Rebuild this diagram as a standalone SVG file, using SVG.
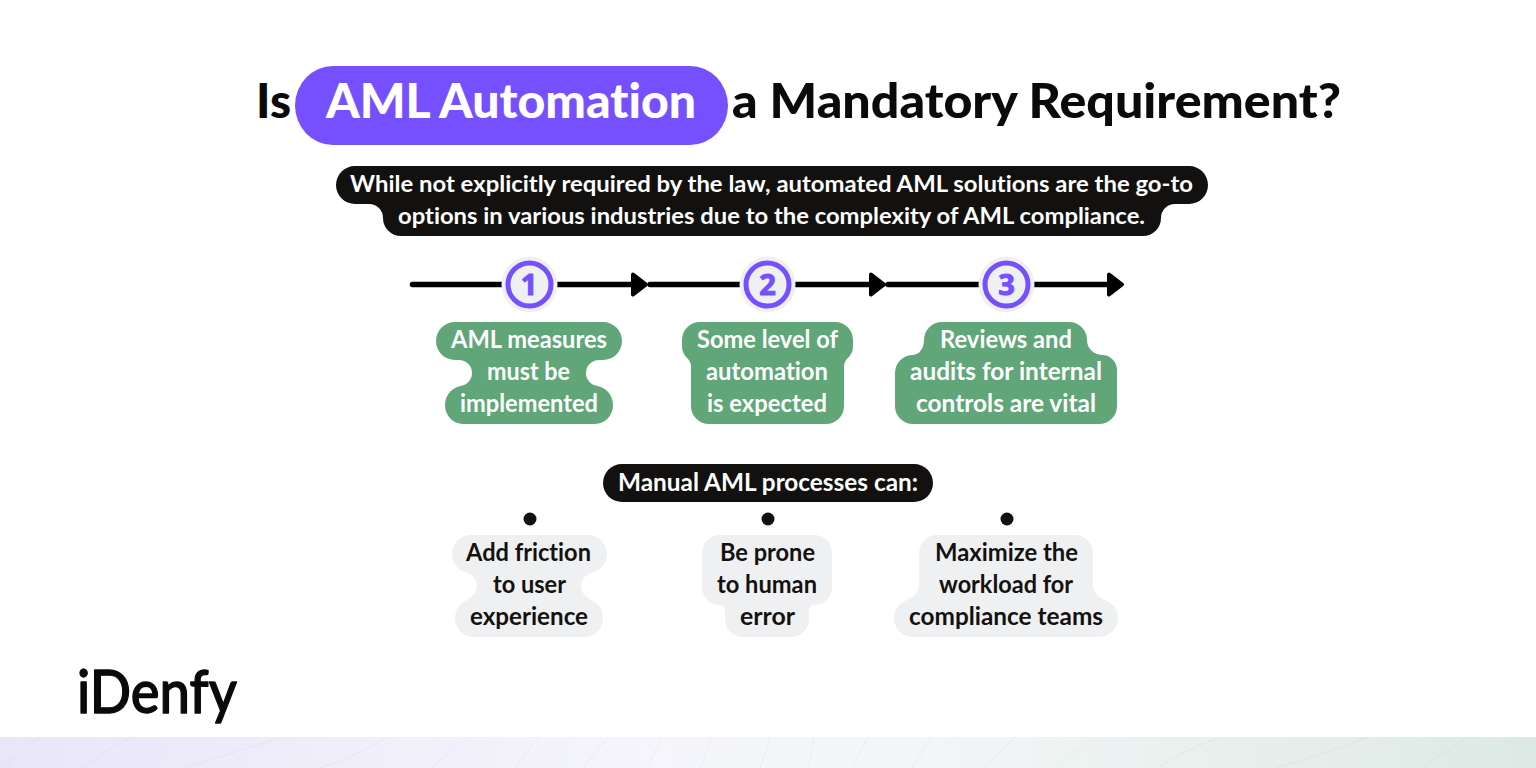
<svg xmlns="http://www.w3.org/2000/svg" width="1536" height="768" viewBox="0 0 1536 768">
<style>
text{font-family:"Lato","Noto Sans",sans-serif;font-weight:700;font-variant-ligatures:none}
.t{font-size:47px;font-weight:900;fill:#0a0a0a}
.s{font-size:23px;fill:#fff}
.g{font-size:24px;fill:#fff}
.k{font-size:24px;fill:#131210}
.d{font-family:"Open Sans","Lato",sans-serif;font-size:29px;font-weight:700;fill:#7650fe;stroke:#7650fe;stroke-width:1;stroke-linejoin:round}
.black{fill:#12110f}.green{fill:#60a678}.gray{fill:#eff0f1}
.halo{fill:#eff0f1}.ring{fill:#eff0f1;stroke:#7650fe;stroke-width:5}
.line{fill:none;stroke:#000;stroke-width:5.500;stroke-linecap:round}
.arrow{marker-end:url(#head)}
.curve{fill:none;stroke:#7878a0;stroke-opacity:.07;stroke-width:1}
</style>
<defs>
<marker id="head" markerUnits="userSpaceOnUse" viewBox="0 0 19 26" refX="3" refY="13" markerWidth="19" markerHeight="26" orient="auto"><path d="M3 3 16 13 3 23Z" fill="#000" stroke="#000" stroke-width="4" stroke-linejoin="round"/></marker>
<linearGradient id="band" x1="0" x2="1" y1="0" y2="0"><stop offset="0" stop-color="#e9e6f9"/><stop offset=".42" stop-color="#f5f5fb"/><stop offset=".6" stop-color="#f3f6f7"/><stop offset="1" stop-color="#dde9e4"/></linearGradient>
</defs>
<rect width="1536" height="768" fill="#fff"/>
<g id="band-footer">
<rect y="737" width="1536" height="31" fill="url(#band)"/>
<path class="curve" d="M39 737Q20 750 5 768M132 737Q105 750 83 768M284 737Q240 750 186 768M387 737Q360 755 319 768M471 737Q450 752 431 768M539 737Q525 752 515 768M608 737Q595 752 583 768M662 737Q655 752 647 768M711 737Q706 752 701 768M770 737Q766 752 760 768M814 737Q810 752 809 768M868 737Q860 752 853 768M931 737Q922 752 912 768M1015 737Q1000 752 985 768M1093 737Q1075 752 1059 768M1221 737Q1180 752 1157 768M1368 737Q1330 752 1275 768M1467 737Q1445 752 1422 768"/>
</g>
<g id="title">
<path d="M333 66H690A38 39.500 0 0 1 690 145H333A38 39.500 0 0 1 333 66Z" fill="#7650fe"/>
<text class="t" x="256" y="118" textLength="35" lengthAdjust="spacingAndGlyphs">Is</text>
<text class="t" x="326" y="118" textLength="370" lengthAdjust="spacingAndGlyphs" style="fill:#fff">AML Automation</text>
<text class="t" x="732" y="118" textLength="609" lengthAdjust="spacingAndGlyphs">a Mandatory Requirement?</text>
</g>
<g id="intro">
<path class="black" d="M355 166H1189A19 19 0 0 1 1189 204H1175A14 14 0 0 0 1161 218A18 18 0 0 1 1143 236H401A18 18 0 0 1 383 218A14 14 0 0 0 369 204H355A19 19 0 0 1 355 166Z"/>
<text class="s" x="350" y="192" textLength="843" lengthAdjust="spacingAndGlyphs">While not explicitly required by the law, automated AML solutions are the go-to</text>
<text class="s" x="398" y="224" textLength="747" lengthAdjust="spacingAndGlyphs">options in various industries due to the complexity of AML compliance.</text>
</g>
<g id="connectors">
<path class="line" d="M412.500 284.500H502"/>
<path class="line arrow" d="M558 284.500H633"/>
<path class="line" d="M650 284.500H741"/>
<path class="line arrow" d="M796 284.500H871"/>
<path class="line" d="M888 284.500H979"/>
<path class="line arrow" d="M1035 284.500H1109"/>
</g>
<g id="step-1">
<circle class="halo" cx="529.500" cy="284.500" r="28"/><circle class="ring" cx="529.500" cy="284.500" r="21.500"/>
<text class="d" x="529" y="295" text-anchor="middle">1</text>
</g>
<g id="step-2">
<circle class="halo" cx="767.500" cy="284.500" r="28"/><circle class="ring" cx="767.500" cy="284.500" r="21.500"/>
<text class="d" x="767.500" y="295" text-anchor="middle">2</text>
</g>
<g id="step-3">
<circle class="halo" cx="1006.500" cy="284.500" r="28"/><circle class="ring" cx="1006.500" cy="284.500" r="21.500"/>
<text class="d" x="1006.500" y="295" text-anchor="middle">3</text>
</g>
<g id="req-1">
<path class="green" d="M455 322H603A19 19 0 0 1 603 360H599A13 13 0 0 0 599 386H595A18 19 0 0 1 595 424H463A18 19 0 0 1 463 386H459A13 13 0 0 0 459 360H455A19 19 0 0 1 455 322Z"/>
<text class="g" x="451" y="348" textLength="156" lengthAdjust="spacingAndGlyphs">AML measures</text>
<text class="g" x="487" y="380" textLength="83" lengthAdjust="spacingAndGlyphs">must be</text>
<text class="g" x="460" y="412" textLength="138" lengthAdjust="spacingAndGlyphs">implemented</text>
</g>
<g id="req-2">
<path class="green" d="M700 322H835A18 18 0 0 1 853 340V346Q853 354 847 359Q844 362 844 367V406A18 18 0 0 1 826 424H709A18 18 0 0 1 691 406V367Q691 362 688 359Q682 354 682 346V340A18 18 0 0 1 700 322Z"/>
<text class="g" x="697" y="348" textLength="141" lengthAdjust="spacingAndGlyphs">Some level of</text>
<text class="g" x="706" y="380" textLength="122" lengthAdjust="spacingAndGlyphs">automation</text>
<text class="g" x="707" y="412" textLength="120" lengthAdjust="spacingAndGlyphs">is expected</text>
</g>
<g id="req-3">
<path class="green" d="M942 322H1069A18 18 0 0 1 1087 340A15 15 0 0 0 1102 355A15 15 0 0 1 1117 370V406A18 18 0 0 1 1099 424H913A18 18 0 0 1 895 406V373A18 18 0 0 1 913 355A11 15 0 0 0 924 340A18 18 0 0 1 942 322Z"/>
<text class="g" x="940" y="348" textLength="132" lengthAdjust="spacingAndGlyphs">Reviews and</text>
<text class="g" x="910" y="380" textLength="192" lengthAdjust="spacingAndGlyphs">audits for internal</text>
<text class="g" x="916" y="412" textLength="180" lengthAdjust="spacingAndGlyphs">controls are vital</text>
</g>
<g id="manual-heading">
<path class="black" d="M622 464H914A19 19 0 0 1 914 502H622A19 19 0 0 1 622 464Z"/>
<text class="s" x="618" y="491" textLength="300" lengthAdjust="spacingAndGlyphs" style="font-size:24px">Manual AML processes can:</text>
</g>
<g id="risk-1">
<circle cx="530" cy="519" r="6.500" fill="#111"/>
<path class="gray" d="M471 535H588A19 19 0 0 1 588 573H594A13 13 0 0 0 594 599H585A18 19 0 0 1 585 637H473A18 19 0 0 1 473 599H464A13 13 0 0 0 464 573H471A19 19 0 0 1 471 535Z"/>
<text class="k" x="466" y="561" textLength="125" lengthAdjust="spacingAndGlyphs">Add friction</text>
<text class="k" x="493" y="593" textLength="73" lengthAdjust="spacingAndGlyphs">to user</text>
<text class="k" x="470" y="625" textLength="118" lengthAdjust="spacingAndGlyphs">experience</text>
</g>
<g id="risk-2">
<circle cx="768" cy="519" r="6.500" fill="#111"/>
<path class="gray" d="M720 535H814A18 18 0 0 1 832 553V587A18 18 0 0 1 814 605A5 5 0 0 0 809 610V619A18 18 0 0 1 791 637H743A18 18 0 0 1 725 619V610A5 5 0 0 0 720 605A18 18 0 0 1 702 587V553A18 18 0 0 1 720 535Z"/>
<text class="k" x="720" y="561" textLength="95" lengthAdjust="spacingAndGlyphs">Be prone</text>
<text class="k" x="717" y="593" textLength="100" lengthAdjust="spacingAndGlyphs">to human</text>
<text class="k" x="740" y="625" textLength="55" lengthAdjust="spacingAndGlyphs">error</text>
</g>
<g id="risk-3">
<circle cx="1007" cy="519" r="6.500" fill="#111"/>
<path class="gray" d="M937 535H1075A18 18 0 0 1 1093 553V585A14 14 0 0 0 1107 599H1099A19 19 0 0 1 1099 637H913A19 19 0 0 1 913 599H905A14 14 0 0 0 919 585V553A18 18 0 0 1 937 535Z"/>
<text class="k" x="935" y="561" textLength="143" lengthAdjust="spacingAndGlyphs">Maximize the</text>
<text class="k" x="939" y="593" textLength="134" lengthAdjust="spacingAndGlyphs">workload for</text>
<text class="k" x="909" y="625" textLength="194" lengthAdjust="spacingAndGlyphs">compliance teams</text>
</g>
<g id="logo">
<text x="77" y="713" textLength="160" lengthAdjust="spacingAndGlyphs" style="font-size:60px;font-weight:500;fill:#0a0a0a;stroke:#0a0a0a;stroke-width:1.300;stroke-linejoin:round">iDenfy</text>
</g>
</svg>
